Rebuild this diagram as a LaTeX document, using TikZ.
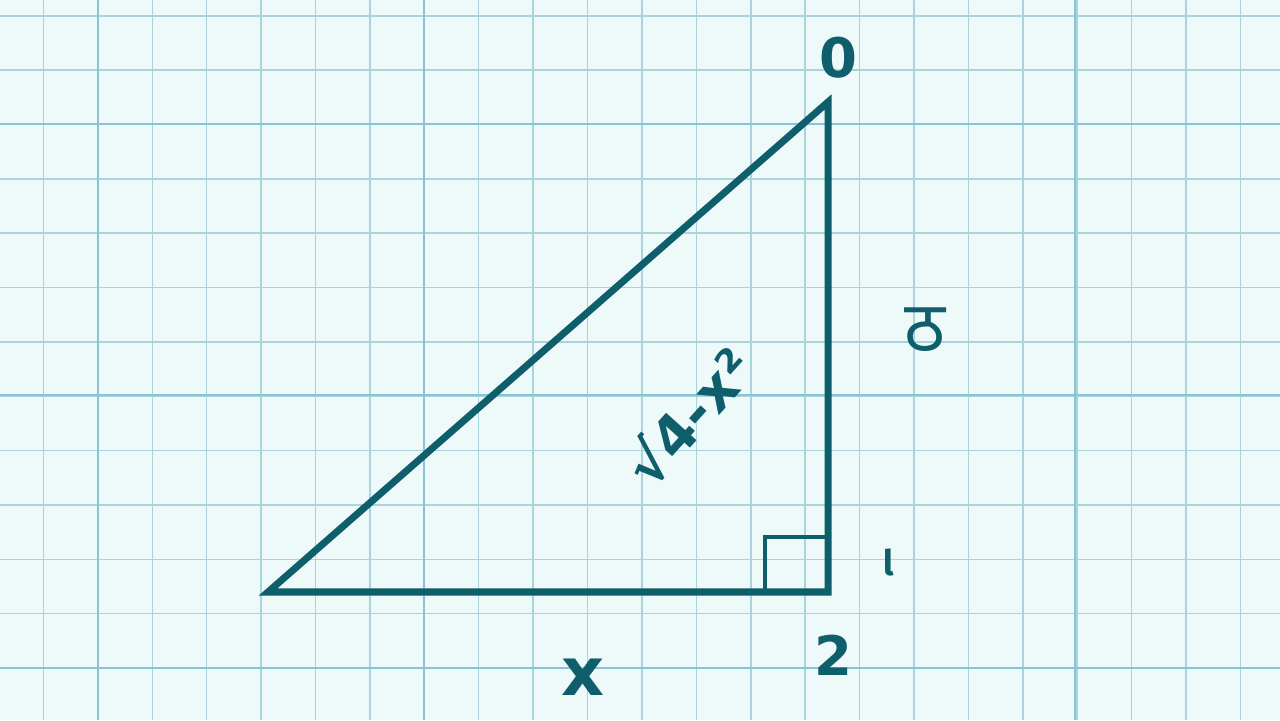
\documentclass[tikz,border=0pt]{standalone}
\usepackage{fontspec}
\setmainfont{DejaVu Sans}
\newfontfamily\devafont[Script=Devanagari]{Noto Sans}
\newfontfamily\tailfont{Fira Sans}
\usetikzlibrary{positioning}

\definecolor{paper}{HTML}{EEF9FA}
\definecolor{gridline}{HTML}{A8D5DB}
\definecolor{gridmajor}{HTML}{8CC2D8}
\definecolor{ink}{HTML}{0F5E6B}

\tikzset{
  lbl/.style={text=ink, inner sep=0pt},
  side/.style={draw=ink, line width=4pt, line join=miter}
}

\begin{document}
\begin{tikzpicture}[x=0.02cm,y=-0.02cm]
                % Graph paper
                \fill[paper] (0,0) rectangle (1280,720);
                \useasboundingbox (0,0) rectangle (1280,720);
                \foreach \i in {0,...,22}
                  \draw[gridline,line width=0.9pt] ({43.5+54.4*\i},0) -- ({43.5+54.4*\i},720);
                \foreach \j in {0,...,12}
                  \draw[gridline,line width=0.9pt] (0,{15.8+54.35*\j}) -- (1280,{15.8+54.35*\j});
                \foreach \xx in {98,424,1075}
                  \draw[gridmajor,line width=1.1pt] (\xx,0) -- (\xx,720);
                \foreach \yy in {124,395,668}
                  \draw[gridmajor,line width=1.1pt] (0,\yy) -- (1280,\yy);

                % Right triangle
                \coordinate (A) at (268,592);
                \coordinate (B) at (828,592);
                \coordinate (C) at (828,102);
                \draw[side] (A) -- (B) -- (C) -- cycle;

                % Right angle mark
                \draw[ink,line width=2.3pt] (B) ++(-63,0) |- ++(63,-55);

                % Labels
                \node[lbl,font=\fontsize{31}{36}\selectfont\bfseries] (top) at (838,58) {0};
                \node[lbl,font=\fontsize{40}{44}\selectfont\devafont\bfseries] (right) at (925,330) {ठ};
                \node[lbl,font=\fontsize{20}{24}\selectfont\tailfont\bfseries] (tick) at (889,562) {l};
                \node[lbl,font=\fontsize{31}{36}\selectfont\bfseries] (two) at (833,655) {2};
                \node[lbl,font=\fontsize{38}{44}\selectfont\bfseries] (base) at (583,677) {x};
                \node[lbl,rotate=48,font=\fontsize{32}{36}\selectfont\bfseries] (hyp) at (688,416) {√4-x²};
            \end{tikzpicture}
\end{document}
